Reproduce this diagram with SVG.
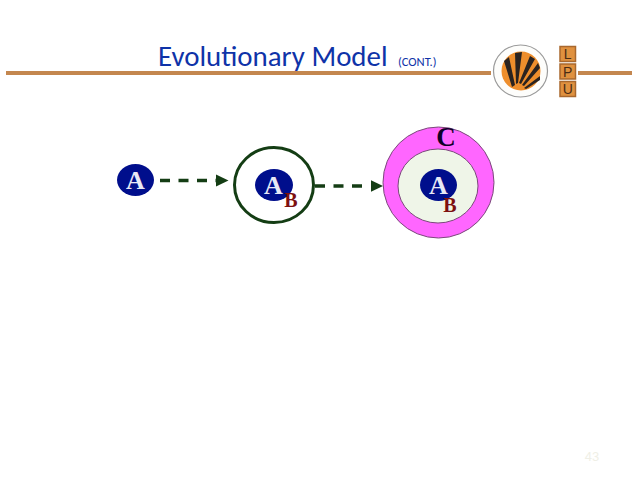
<svg xmlns="http://www.w3.org/2000/svg" width="638" height="478" viewBox="0 0 638 478">
<defs>
<style>
.a{font-family:"Liberation Serif",serif;font-weight:bold;font-size:26px;fill:#e8e8f5;text-anchor:middle}
.b{font-family:"Liberation Serif",serif;font-weight:bold;font-size:20px;fill:#7d1010;text-anchor:middle}
.el{fill:#000e8c}
.dash{fill:none;stroke:#143d14;stroke-width:3.500;stroke-dasharray:10 8.500}
.bar{fill:#c4874f}
.lpu{fill:#e0913f;stroke:#a9682e;stroke-width:1.500}
.lt{font-family:"Liberation Sans",sans-serif;font-size:14px;fill:#4a2c14;text-anchor:middle}
</style>
<marker id="ah" markerUnits="userSpaceOnUse" markerWidth="13" markerHeight="14" refX="0" refY="7" orient="auto"><path d="M0 1L12.500 7L0 13Z" fill="#143d14"/></marker>
</defs>
<rect width="638" height="478" fill="#fff"/>
<g id="header">
<rect class="bar" x="6" y="71" width="485" height="4"/>
<rect class="bar" x="578" y="71" width="54" height="4"/>
<text x="158" y="66" font-family="Carlito,'Open Sans','Liberation Sans',sans-serif" font-size="28.900" fill="#0f33a8">Evolutionary Model</text>
<text x="398" y="66" font-family="Carlito,'Open Sans','Liberation Sans',sans-serif" font-size="12.500" fill="#0f33a8">(CONT.)</text>
</g>
<g id="logo">
<ellipse cx="520.500" cy="71" rx="27" ry="26" fill="#fdfdfb" stroke="#9a9a9a" stroke-width="1.200"/>
<circle cx="521" cy="71" r="19.500" fill="#ee8e2c"/>
<path d="M512 87L504 61L509 57L515 85ZM516 84L515 53L522 52L518 83ZM519 83L530 56L535 59L521 84ZM522 85L538 63L540 68L524 86ZM524 88L540 76L540 80L526 89Z" fill="#2a2320"/>
<rect class="lpu" x="560" y="46.500" width="15.500" height="15"/>
<rect class="lpu" x="560" y="64" width="15.500" height="15"/>
<rect class="lpu" x="560" y="81.500" width="15.500" height="15"/>
<text class="lt" x="567.750" y="59">L</text>
<text class="lt" x="567.750" y="76.500">P</text>
<text class="lt" x="567.750" y="94">U</text>
</g>
<g id="connectors">
<line class="dash" x1="160" y1="180.500" x2="216" y2="180.500" marker-end="url(#ah)"/>
<line class="dash" x1="315" y1="186" x2="370.500" y2="186" marker-end="url(#ah)"/>
</g>
<g id="node-a">
<ellipse class="el" cx="135.500" cy="180" rx="18.500" ry="16"/>
<text class="a" x="135.500" y="189">A</text>
</g>
<g id="node-ab">
<ellipse cx="274" cy="185" rx="39.500" ry="37.500" fill="#fff" stroke="#143d14" stroke-width="3"/>
<ellipse class="el" cx="274" cy="185" rx="19" ry="16"/>
<text class="a" x="273.500" y="194">A</text>
<text class="b" x="291" y="207">B</text>
</g>
<g id="node-abc">
<circle cx="438.500" cy="182.500" r="55.500" fill="#ff66ff" stroke="#7a4a7a" stroke-width="1"/>
<ellipse cx="438" cy="186" rx="40" ry="37" fill="#eff5e8" stroke="#7a4a7a" stroke-width="1"/>
<ellipse class="el" cx="438.500" cy="185" rx="18.500" ry="16"/>
<text class="a" x="438.500" y="194">A</text>
<text class="b" x="450" y="212">B</text>
<text x="446" y="146" font-family="'Liberation Serif',serif" font-weight="bold" font-size="27" fill="#10002a" text-anchor="middle">C</text>
</g>
<text id="page" x="592" y="461" font-family="'Liberation Sans',sans-serif" font-size="13" fill="#efefe6" text-anchor="middle">43</text>
</svg>
